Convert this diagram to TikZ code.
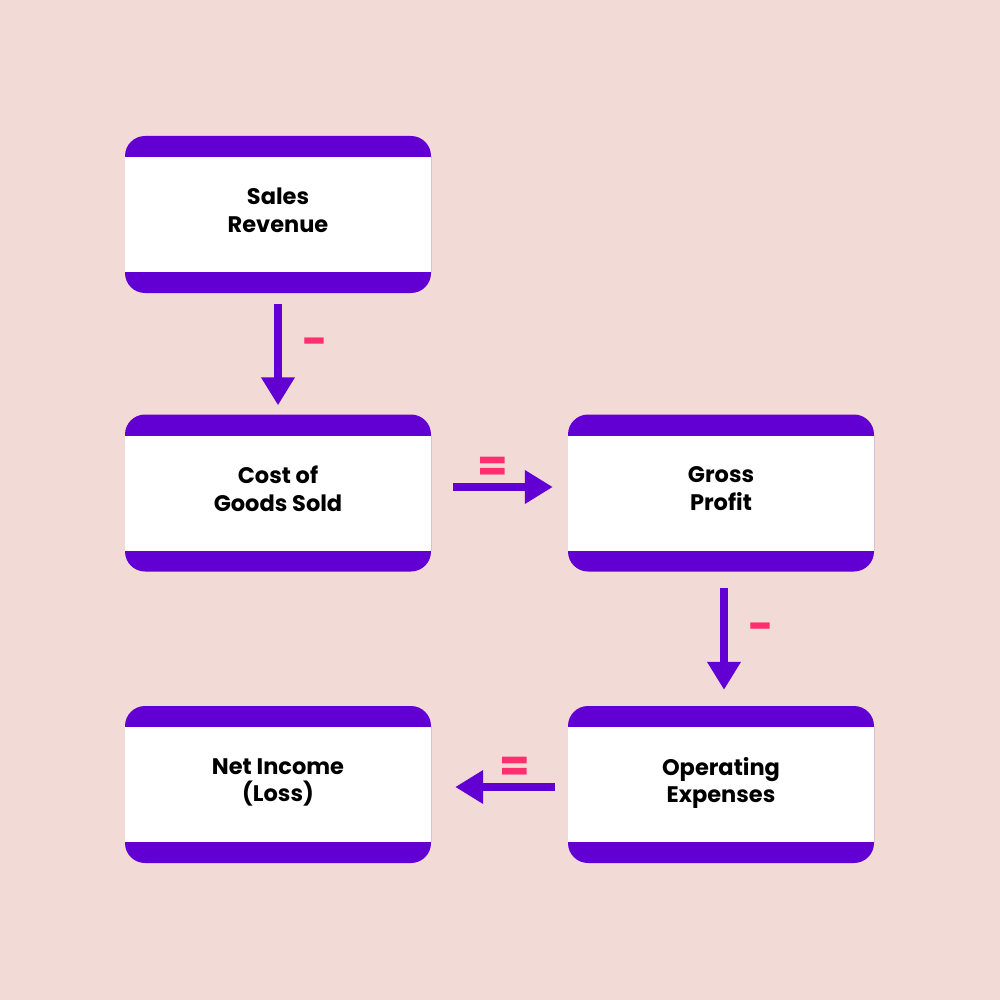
\documentclass[tikz,border=0pt]{standalone}
\usepackage{fontspec}
\setmainfont{Poppins}
\usetikzlibrary{arrows.meta, positioning}

\definecolor{bgpink}{HTML}{F2DAD6}
\definecolor{cardpurple}{HTML}{6200D4}
\definecolor{signpink}{HTML}{FF2E6F}

\tikzset{
  card/.style={rectangle, rounded corners=20pt, fill=cardpurple, inner sep=0pt,
    minimum width=306pt, minimum height=157pt, align=center, text depth=9pt,
    font=\fontsize{22.5}{27.5}\selectfont\bfseries,
    path picture={\fill[white, sharp corners] ([yshift=-21pt]path picture bounding box.north west)
      rectangle ([yshift=21pt]path picture bounding box.south east);}},
  flow/.style={cardpurple, line width=7.5pt, -{Triangle[width=32pt,length=28pt]}},
  sign/.style={text=signpink, inner sep=0pt, font=\fontsize{44}{44}\selectfont\bfseries}
}

\begin{document}
\begin{tikzpicture}[x=1pt,y=-1pt]
%background
\fill[bgpink] (0,0) rectangle (1000,1000);
\useasboundingbox (0,0) rectangle (1000,1000);

% cards
\node[card] (sales) at (278,214.5) {Sales\\Revenue};
\node[card] (cogs) at (278,493) {Cost of\\Goods Sold};
\node[card] (gross) at (721,493) {Gross\\Profit};
\node[card] (net) at (278,784.5) {Net Income\\(Loss)};
\node[card] (opex) at (721,784.5) {Operating\\Expenses};

% connectors
\draw[flow, shorten <=11pt, shorten >=9pt] (sales.south) -- (cogs.north);
\draw[flow, shorten <=22pt, shorten >=15pt] ([yshift=6pt]cogs.east) -- ([yshift=6pt]gross.west);
\draw[flow, shorten <=16pt, shorten >=16pt] ([xshift=3pt]gross.south) -- ([xshift=3pt]opex.north);
\draw[flow, shorten <=13pt, shorten >=24pt] ([yshift=-2.5pt]opex.west) -- ([yshift=-2.5pt]net.east);

% signs
\node[sign] (minusA) at (314,347) {−};
\node[sign] (equalsA) at (493,469) {=};
\node[sign] (minusB) at (760,632) {−};
\node[sign] (equalsB) at (515,769) {=};

\end{tikzpicture}
\end{document}
